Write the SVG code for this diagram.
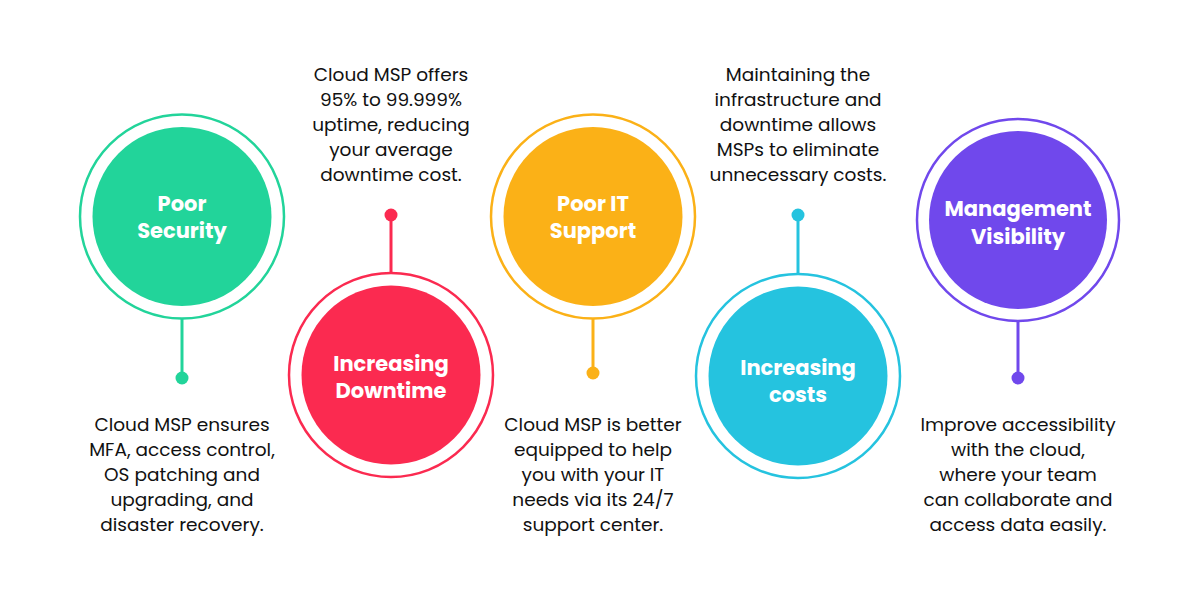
<svg xmlns="http://www.w3.org/2000/svg" width="1200" height="605" viewBox="0 0 1200 605">
<style>
.ring{fill:none;stroke-width:2.5}
.t{font-family:Poppins,"Open Sans","Liberation Sans",sans-serif;font-size:21px;font-weight:700;fill:#fff;text-anchor:middle}
.d{font-family:Poppins,"Open Sans","Liberation Sans",sans-serif;font-size:18.5px;fill:#111;text-anchor:middle}
.ln{stroke-width:3}
</style>
<rect width="1200" height="605" fill="#fff"/>
<g id="connectors">
<line class="ln" x1="182" y1="318" x2="182" y2="378" stroke="#22d49a"/>
<circle cx="182" cy="378" r="6.5" fill="#22d49a"/>
<line class="ln" x1="391" y1="215" x2="391" y2="273" stroke="#fb2a50"/>
<circle cx="391" cy="215" r="6.5" fill="#fb2a50"/>
<line class="ln" x1="593" y1="318" x2="593" y2="373" stroke="#fbb117"/>
<circle cx="593" cy="373" r="6.5" fill="#fbb117"/>
<line class="ln" x1="798" y1="215" x2="798" y2="274" stroke="#25c3df"/>
<circle cx="798" cy="215" r="6.5" fill="#25c3df"/>
<line class="ln" x1="1018" y1="320" x2="1018" y2="378" stroke="#7048ec"/>
<circle cx="1018" cy="378" r="6.5" fill="#7048ec"/>
</g>
<g id="n1">
<circle class="ring" cx="182" cy="216.5" r="102" stroke="#22d49a"/>
<circle cx="182" cy="216.5" r="89.5" fill="#22d49a"/>
<text class="t" x="182" y="211">Poor</text><text class="t" x="182" y="238">Security</text>
<text class="d" x="182" y="431">Cloud MSP ensures</text>
<text class="d" x="182" y="456">MFA, access control,</text>
<text class="d" x="182" y="481">OS patching and</text>
<text class="d" x="182" y="506">upgrading, and</text>
<text class="d" x="182" y="531">disaster recovery.</text>
</g>
<g id="n2">
<circle class="ring" cx="391" cy="375" r="102" stroke="#fb2a50"/>
<circle cx="391" cy="375" r="89.5" fill="#fb2a50"/>
<text class="t" x="391" y="371">Increasing</text><text class="t" x="391" y="398">Downtime</text>
<text class="d" x="391" y="81">Cloud MSP offers</text>
<text class="d" x="391" y="106">95% to 99.999%</text>
<text class="d" x="391" y="131">uptime, reducing</text>
<text class="d" x="391" y="156">your average</text>
<text class="d" x="391" y="181">downtime cost.</text>
</g>
<g id="n3">
<circle class="ring" cx="593" cy="216.5" r="102" stroke="#fbb117"/>
<circle cx="593" cy="216.5" r="89.5" fill="#fbb117"/>
<text class="t" x="593" y="211">Poor IT</text><text class="t" x="593" y="238">Support</text>
<text class="d" x="593" y="431">Cloud MSP is better</text>
<text class="d" x="593" y="456">equipped to help</text>
<text class="d" x="593" y="481">you with your IT</text>
<text class="d" x="593" y="506">needs via its 24/7</text>
<text class="d" x="593" y="531">support center.</text>
</g>
<g id="n4">
<circle class="ring" cx="798" cy="376" r="102" stroke="#25c3df"/>
<circle cx="798" cy="376" r="89.5" fill="#25c3df"/>
<text class="t" x="798" y="375">Increasing</text><text class="t" x="798" y="402">costs</text>
<text class="d" x="798" y="81">Maintaining the</text>
<text class="d" x="798" y="106">infrastructure and</text>
<text class="d" x="798" y="131">downtime allows</text>
<text class="d" x="798" y="156">MSPs to eliminate</text>
<text class="d" x="798" y="181">unnecessary costs.</text>
</g>
<g id="n5">
<circle class="ring" cx="1018" cy="220" r="101" stroke="#7048ec"/>
<circle cx="1018" cy="220" r="89" fill="#7048ec"/>
<text class="t" x="1018" y="216">Management</text><text class="t" x="1018" y="244">Visibility</text>
<text class="d" x="1018" y="431">Improve accessibility</text>
<text class="d" x="1018" y="456">with the cloud,</text>
<text class="d" x="1018" y="481">where your team</text>
<text class="d" x="1018" y="506">can collaborate and</text>
<text class="d" x="1018" y="531">access data easily.</text>
</g>
</svg>
